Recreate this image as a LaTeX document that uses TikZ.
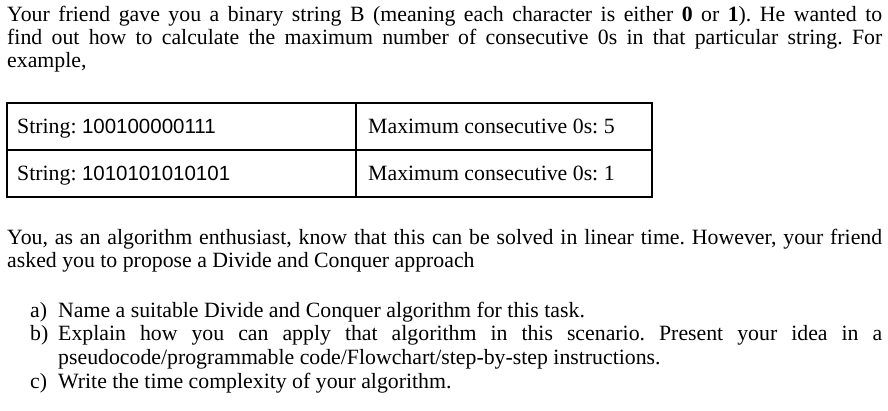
\documentclass[tikz,border=0pt]{standalone}
\usepackage{fontspec}
\setmainfont{Liberation Serif}
\newfontfamily\arial{Liberation Sans}
\frenchspacing
\begin{document}
\begin{tikzpicture}[x=1pt,y=-1pt,
  ln/.style={anchor=base west,inner sep=0pt,font=\fontsize{21.8}{24}\selectfont},
  cell/.style={anchor=base west,inner sep=0pt,font=\fontsize{21.8}{24}\selectfont}]
\useasboundingbox (0,0) rectangle (888,411);
\newcommand\jl[1]{\makebox[875pt][s]{#1}}
\newcommand\jb[1]{\makebox[824pt][s]{#1}}
\node[ln] (l1) at (7,22) {\jl{Your friend gave you a binary string B (meaning each character is either \textbf{0} or \textbf{1}). He wanted to}};
\node[ln] (l2) at (7,45) {\jl{find out how to calculate the maximum number of consecutive 0s in that particular string. For}};
\node[ln] (l3) at (7,68) {example,};
\draw[line width=1.6pt] (7,103) rectangle (652,197);
\draw[line width=1.6pt] (7,150) -- (652,150);
\draw[line width=1.6pt] (356,103) -- (356,197);
\node[cell] (c1) at (17,134) {String: {\arial\fontsize{20.5}{22}\selectfont 100100000111}};
\node[cell] (c2) at (368,134) {Maximum consecutive 0s: 5};
\node[cell] (c3) at (17,181) {String: {\arial\fontsize{20.5}{22}\selectfont 1010101010101}};
\node[cell] (c4) at (368,181) {Maximum consecutive 0s: 1};
\node[ln] (p1) at (7,245) {\jl{You, as an algorithm enthusiast, know that this can be solved in linear time. However, your friend}};
\node[ln] (p2) at (7,268) {asked you to propose a Divide and Conquer approach};
\node[ln] (a) at (30,318) {a)};
\node[ln] (at) at (58,318) {Name a suitable Divide and Conquer algorithm for this task.};
\node[ln] (b) at (30,341) {b)};
\node[ln] (bt) at (58,341) {\jb{Explain how you can apply that algorithm in this scenario. Present your idea in a}};
\node[ln] (bt2) at (58,364) {pseudocode/programmable code/Flowchart/step-by-step instructions.};
\node[ln] (c) at (30,388) {c)};
\node[ln] (ct) at (58,388) {Write the time complexity of your algorithm.};
\end{tikzpicture}
\end{document}
